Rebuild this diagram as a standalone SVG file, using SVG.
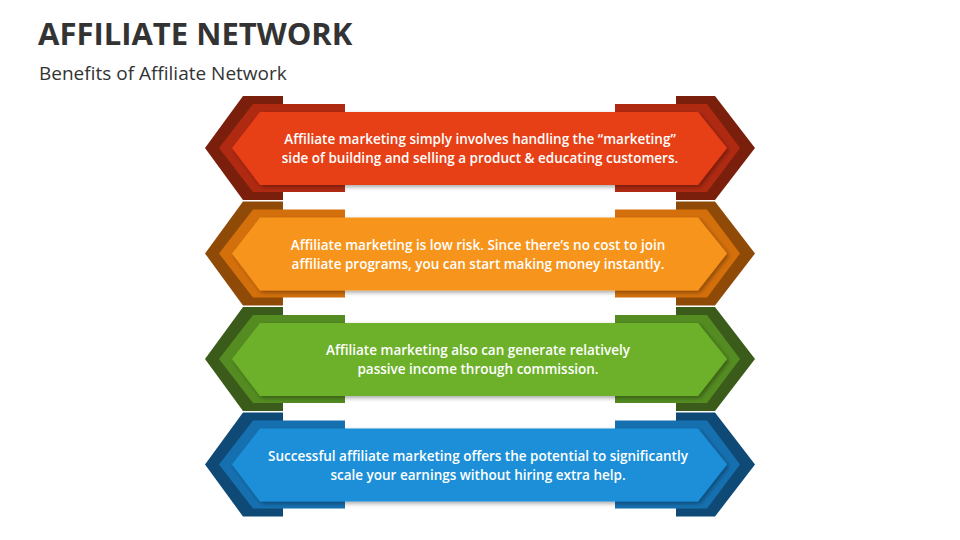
<svg xmlns="http://www.w3.org/2000/svg" width="960" height="540" viewBox="0 0 960 540">
<defs>
<style>
.t{font-family:"Open Sans","Liberation Sans",sans-serif;font-weight:600;font-size:13.5px;fill:#fff;text-anchor:middle}
</style>
<filter id="sh" x="-5%" y="-20%" width="110%" height="140%"><feDropShadow dx="2" dy="2" stdDeviation="2" flood-color="#000" flood-opacity="0.35"/></filter>
<g id="shape">
<polygon class="d" points="243,-52 283,-52 283,52 243,52 205,0"/>
<polygon class="d" points="676,-52 715,-52 755,0 715,52 676,52"/>
<polygon class="m" points="253,-44 345,-44 345,44 253,44 219,0"/>
<polygon class="m" points="615,-44 707,-44 740,0 707,44 615,44"/>
<polygon class="i" filter="url(#sh)" points="260,-36 698,-36 727,0 698,37 260,37 232,0"/>
</g>
</defs>
<rect width="960" height="540" fill="#fff"/>
<text x="38" y="45" font-family="'Open Sans','Liberation Sans',sans-serif" font-weight="700" font-size="31" fill="#333">AFFILIATE NETWORK</text>
<text x="39" y="80" font-family="'Open Sans','Liberation Sans',sans-serif" font-size="19" fill="#333">Benefits of Affiliate Network</text>
<g id="n1" transform="translate(0,148)">
<g style="--d:0"><polygon fill="#7a1f0c" points="243,-52 283,-52 283,52 243,52 205,0"/><polygon fill="#7a1f0c" points="676,-52 715,-52 755,0 715,52 676,52"/><polygon fill="#b02a12" points="253,-44 345,-44 345,44 253,44 219,0"/><polygon fill="#b02a12" points="615,-44 707,-44 740,0 707,44 615,44"/><polygon fill="#e83f18" filter="url(#sh)" points="260,-36 698,-36 727,0 698,37 260,37 232,0"/></g>
<text class="t" x="480" y="-4">Affiliate marketing simply involves handling the “marketing”</text>
<text class="t" x="480" y="15">side of building and selling a product &amp; educating customers.</text>
</g>
<g id="n2" transform="translate(0,253.5)">
<polygon fill="#8f4a08" points="243,-52 283,-52 283,52 243,52 205,0"/><polygon fill="#8f4a08" points="676,-52 715,-52 755,0 715,52 676,52"/><polygon fill="#d4700c" points="253,-44 345,-44 345,44 253,44 219,0"/><polygon fill="#d4700c" points="615,-44 707,-44 740,0 707,44 615,44"/><polygon fill="#f7941e" filter="url(#sh)" points="260,-36 698,-36 727,0 698,37 260,37 232,0"/>
<text class="t" x="478" y="-4">Affiliate marketing is low risk. Since there’s no cost to join</text>
<text class="t" x="478" y="15">affiliate programs, you can start making money instantly.</text>
</g>
<g id="n3" transform="translate(0,359)">
<polygon fill="#3b5b1a" points="243,-52 283,-52 283,52 243,52 205,0"/><polygon fill="#3b5b1a" points="676,-52 715,-52 755,0 715,52 676,52"/><polygon fill="#548c22" points="253,-44 345,-44 345,44 253,44 219,0"/><polygon fill="#548c22" points="615,-44 707,-44 740,0 707,44 615,44"/><polygon fill="#6db12c" filter="url(#sh)" points="260,-36 698,-36 727,0 698,37 260,37 232,0"/>
<text class="t" x="478" y="-4">Affiliate marketing also can generate relatively</text>
<text class="t" x="478" y="15">passive income through commission.</text>
</g>
<g id="n4" transform="translate(0,464.5)">
<polygon fill="#0f4a77" points="243,-52 283,-52 283,52 243,52 205,0"/><polygon fill="#0f4a77" points="676,-52 715,-52 755,0 715,52 676,52"/><polygon fill="#1670b0" points="253,-44 345,-44 345,44 253,44 219,0"/><polygon fill="#1670b0" points="615,-44 707,-44 740,0 707,44 615,44"/><polygon fill="#1b8fd8" filter="url(#sh)" points="260,-36 698,-36 727,0 698,37 260,37 232,0"/>
<text class="t" x="478" y="-4">Successful affiliate marketing offers the potential to significantly</text>
<text class="t" x="478" y="15">scale your earnings without hiring extra help.</text>
</g>
<g id="connectors"/>
</svg>
